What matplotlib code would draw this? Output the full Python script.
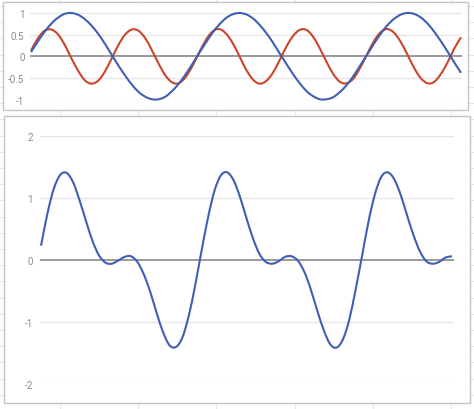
import matplotlib
matplotlib.use("Agg")
import matplotlib.pyplot as plt
from matplotlib.patches import Rectangle, PathPatch
from matplotlib.path import Path

plt.rcParams['font.family'] = ['Roboto', 'DejaVu Sans']

# series (one sample every ~6.7 px)
wave_1 = [0.10, 0.34, 0.56, 0.75, 0.89, 0.98, 1.00, 0.96, 0.86, 0.71,
          0.52, 0.29, 0.04, -0.21, -0.44, -0.65, -0.82, -0.93, -0.99, -0.99,
          -0.93, -0.80, -0.63, -0.42, -0.18, 0.07, 0.31, 0.54, 0.73, 0.88,
          0.97, 1.00, 0.97, 0.88, 0.73, 0.54, 0.32, 0.07, -0.17, -0.41,
          -0.62, -0.80, -0.92, -0.99, -0.99, -0.94, -0.82, -0.66, -0.45, -0.21,
          0.03, 0.28, 0.51, 0.71, 0.86, 0.96, 1.00, 0.98, 0.90, 0.76,
          0.57, 0.35, 0.11, -0.14, -0.38]
wave_2 = [0.13, 0.41, 0.59, 0.62, 0.51, 0.27, -0.04, -0.33, -0.55, -0.63,
          -0.56, -0.35, -0.05, 0.26, 0.50, 0.62, 0.59, 0.42, 0.14, -0.17,
          -0.44, -0.60, -0.62, -0.48, -0.23, 0.08, 0.37, 0.57, 0.63, 0.53,
          0.31, 0.01, -0.30, -0.53, -0.63, -0.57, -0.38, -0.09, 0.22, 0.47,
          0.61, 0.61, 0.45, 0.18, -0.13, -0.41, -0.59, -0.62, -0.51, -0.26,
          0.04, 0.34, 0.55, 0.63, 0.55, 0.34, 0.05, -0.26, -0.50, -0.62,
          -0.59, -0.41, -0.14, 0.18, 0.44]
wave_sum = [0.23, 0.75, 1.15, 1.37, 1.40, 1.25, 0.96, 0.63, 0.31, 0.08,
            -0.04, -0.06, -0.01, 0.05, 0.06, -0.03, -0.23, -0.51, -0.85, -1.16,
            -1.37, -1.40, -1.25, -0.90, -0.41, 0.15, 0.68, 1.11, 1.36, 1.41,
            1.28, 1.01, 0.67, 0.35, 0.10, -0.03, -0.06, -0.02, 0.05, 0.06,
            -0.01, -0.19, -0.47, -0.81, -1.12, -1.35, -1.41, -1.28, -0.96, -0.47,
            0.07, 0.62, 1.06, 1.34, 1.41, 1.30, 1.05, 0.72, 0.40, 0.14,
            -0.02, -0.06, -0.03, 0.04, 0.06]

top_ticks = [1, 0.5, 0, -0.5, -1]
top_labels = ["1", "0.5", "0", "-0.5", "-1"]
bottom_ticks = [2, 1, 0, -1, -2]
bottom_labels = ["2", "1", "0", "-1", "-2"]

W, H = 474, 410
blue = "#3e5fb4"
red = "#cb4528"
grid_c = "#e6e6e6"
zero_c = "#9a9a9a"
label_c = "#8a8a8a"

fig = plt.figure(figsize=(W / 100, H / 100), dpi=100)
fig.patch.set_facecolor("white")

# spreadsheet cells behind the charts
bg = fig.add_axes([0, 0, 1, 1])
bg.set_xlim(0, W)
bg.set_ylim(H, 0)
bg.axis("off")
col = 60.0
while col < W:
    bg.axvline(col, color="#e6e6e6", lw=0.8, zorder=0)
    col += 78.2
row = 7.0
while row < H:
    bg.axhline(row, color="#e6e6e6", lw=0.8, zorder=0)
    row += 16.2
bg.add_patch(Rectangle((3, 3), 465, 107.5, facecolor="white", edgecolor="#c4c4c4", lw=1.0, zorder=2))
bg.add_patch(Rectangle((4, 116.5), 466, 287.5, facecolor="white", edgecolor="#c4c4c4", lw=1.0, zorder=2))


def px_axes(x0, x1, y_top, y_bot):
    # place axes using pixel coords from the top-left corner
    return fig.add_axes([x0 / W, 1 - y_bot / H, (x1 - x0) / W, (y_bot - y_top) / H])


def style(ax, ticks, labels, fs, pad):
    ax.set_facecolor("none")
    for s in ax.spines.values():
        s.set_visible(False)
    ax.set_xticks([])
    ax.set_yticks(ticks)
    ax.set_yticklabels(labels, fontsize=fs, color=label_c)
    ax.tick_params(axis="y", length=0, pad=pad)
    for t in ticks:
        if t == 0:
            ax.axhline(0, color=zero_c, lw=1.4, zorder=1)
        else:
            ax.axhline(t, color=grid_c, lw=0.9, zorder=1)


def smooth_line(ax, xs, ys, color, z):
    # smooth line through the points, like the sheet's "smooth" option
    verts = [(xs[0], ys[0])]
    codes = [Path.MOVETO]
    n = len(xs)
    for i in range(n - 1):
        p0 = (xs[max(i - 1, 0)], ys[max(i - 1, 0)])
        p1 = (xs[i], ys[i])
        p2 = (xs[i + 1], ys[i + 1])
        p3 = (xs[min(i + 2, n - 1)], ys[min(i + 2, n - 1)])
        c1 = (p1[0] + (p2[0] - p0[0]) / 6, p1[1] + (p2[1] - p0[1]) / 6)
        c2 = (p2[0] - (p3[0] - p1[0]) / 6, p2[1] - (p3[1] - p1[1]) / 6)
        verts += [c1, c2, p2]
        codes += [Path.CURVE4] * 3
    ax.add_patch(PathPatch(Path(verts, codes), facecolor="none", edgecolor=color,
                           lw=1.5, zorder=z, clip_on=False, capstyle="butt"))


idx = list(range(len(wave_1)))

# top chart
ax1 = px_axes(30, 462, 14, 100.7)
ax1.set_ylim(-1, 1)
ax1.set_xlim(-0.15, len(idx) - 1 + 0.15)
style(ax1, top_ticks, top_labels, 7, 4)
smooth_line(ax1, idx, wave_2, red, 3)
smooth_line(ax1, idx, wave_1, blue, 4)

# bottom chart
ax2 = px_axes(40, 454, 136.7, 385.3)
ax2.set_ylim(-2, 2)
ax2.set_xlim(-0.16, len(idx) - 1 + 0.31)
style(ax2, bottom_ticks, bottom_labels, 7, 5)
smooth_line(ax2, idx, wave_sum, blue, 3)

fig.savefig("out.png", dpi=100)
